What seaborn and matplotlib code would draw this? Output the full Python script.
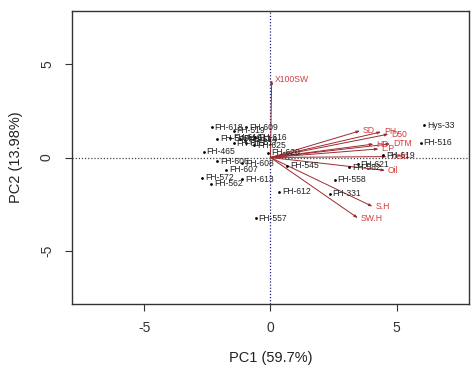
import numpy as np
import pandas as pd
import matplotlib
matplotlib.use('Agg')
import matplotlib.pyplot as plt
import seaborn as sns

# genotype scores (PC1, PC2)
genotypes = ['Hys-33', 'FH-516', 'FH-619', 'FH-621', 'FH-582', 'FH-558', 'FH-331',
             'FH-545', 'FH-612', 'FH-557', 'FH-620', 'FH-608', 'FH-606', 'FH-607',
             'FH-572', 'FH-613', 'FH-562', 'FH-465', 'FH-618', 'FH-609', 'FH-519',
             'FH-540', 'FH-610', 'FH-611', 'FH-614', 'FH-615', 'FH-617', 'FH-616',
             'FH-625']
pc1 = [6.08, 5.95, 4.47, 3.45, 3.12, 2.54, 2.34,
       0.66, 0.34, -0.59, -0.08, -1.12, -2.10, -1.74,
       -2.70, -1.12, -2.34, -2.63, -2.33, -0.95, -1.45,
       -2.10, -1.60, -1.20, -1.00, -1.45, -0.95, -0.60,
       -0.65]
pc2 = [1.73, 0.80, 0.13, -0.35, -0.53, -1.19, -1.94,
       -0.43, -1.83, -3.26, 0.25, -0.30, -0.21, -0.66,
       -1.07, -1.16, -1.40, 0.32, 1.62, 1.62, 1.44,
       1.00, 1.05, 1.00, 0.95, 0.75, 0.80, 1.08,
       0.66]

# trait loadings (arrow tips)
traits = ['X100SW', 'SD', 'PH', 'D50', 'HD', 'DTM', 'L.P', 'Yield', 'Oil', 'S.H', 'SW.H']
load1 = [0.05, 3.55, 4.38, 4.67, 4.08, 4.74, 4.28, 4.60, 4.54, 4.04, 3.46]
load2 = [4.15, 1.43, 1.37, 1.25, 0.72, 0.73, 0.46, 0.05, -0.69, -2.62, -3.24]

xlab = 'PC1 (59.7%)'
ylab = 'PC2 (13.98%)'

df = pd.DataFrame({'name': genotypes, 'PC1': pc1, 'PC2': pc2})

sns.set_style('white')
plt.rcParams['font.family'] = ['Liberation Sans', 'DejaVu Sans']

fig = plt.figure(figsize=(4.74, 3.80), dpi=100)
ax = fig.add_axes([0.152, 0.2, 0.837, 0.771])

ax.axvline(0, color='#1f1f8f', ls=(0, (1, 1.5)), lw=0.9, zorder=1)
ax.axhline(0, color='#444444', ls=(0, (1, 1.5)), lw=0.9, zorder=1)

# trait arrows
arrow_col = '#9e2a2f'
label_col = '#d23b3b'
for t, a, b in zip(traits, load1, load2):
    ax.annotate('', xy=(a, b), xytext=(0, 0),
                arrowprops=dict(arrowstyle='-|>,head_length=0.2,head_width=0.07',
                                color=arrow_col, lw=0.7, shrinkA=0, shrinkB=0),
                zorder=2)
    ax.annotate(t, xy=(a, b), xytext=(2, 0), textcoords='offset points',
                ha='left', va='center', fontsize=6.2, color=label_col, zorder=3)

# genotype points
sns.scatterplot(data=df, x='PC1', y='PC2', color='black', s=4, linewidth=0,
                ax=ax, zorder=4)
for n, a, b in zip(genotypes, pc1, pc2):
    ax.annotate(n, xy=(a, b), xytext=(2, 0), textcoords='offset points',
                ha='left', va='center', fontsize=6.2, color='#222222', zorder=5)

ax.set_xlim(-7.85, 7.85)
ax.set_ylim(-7.84, 7.84)
ax.set_xticks([-5, 0, 5])
ax.set_yticks([-5, 0, 5])
ax.set_xticklabels(['-5', '0', '5'])
ax.set_yticklabels(['-5', '0', '5'], rotation=90, va='center')
ax.tick_params(axis='both', direction='out', length=5, width=0.8, labelsize=10,
               colors='#333333', bottom=True, left=True)
ax.tick_params(axis='x', pad=7)
ax.tick_params(axis='y', pad=8)
for s in ax.spines.values():
    s.set_color('#333333')
    s.set_linewidth(1.0)
ax.set_xlabel(xlab, fontsize=10.5, color='#222222', labelpad=12)
ax.set_ylabel(ylab, fontsize=10.5, color='#222222', labelpad=12)

fig.savefig('out.png', dpi=100)
